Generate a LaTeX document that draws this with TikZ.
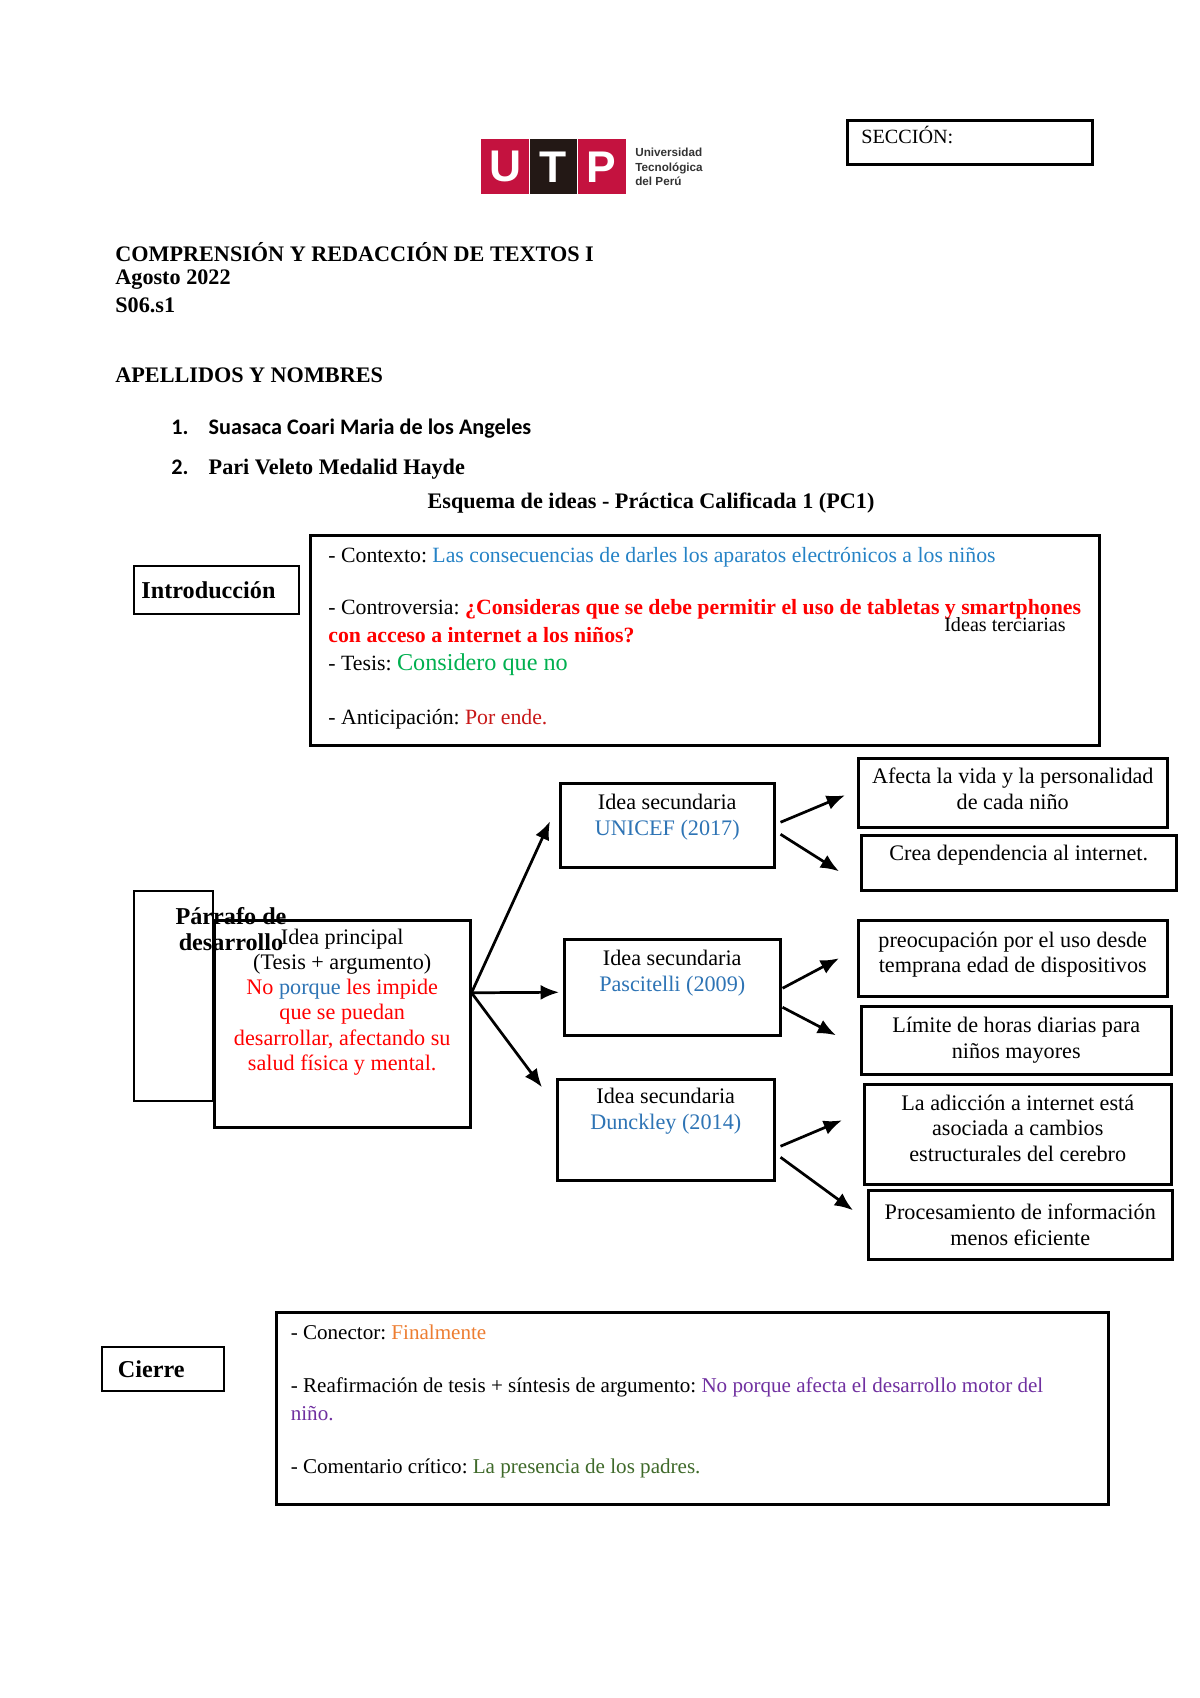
\documentclass[tikz,border=0pt]{standalone}
\usepackage{fontspec}
\setmainfont{Liberation Serif}
\newfontfamily\calibri{Carlito}
\newfontfamily\arialf{Liberation Sans}
\usetikzlibrary{arrows.meta,positioning}
\definecolor{Crimson}{HTML}{C4123F}
\definecolor{Coal}{HTML}{231815}
\definecolor{SkyText}{HTML}{2683C6}
\definecolor{SteelText}{HTML}{2E74B5}
\definecolor{GreenText}{HTML}{00B050}
\definecolor{DeepRed}{HTML}{C81818}
\definecolor{OrangeText}{HTML}{ED7D31}
\definecolor{PurpleText}{HTML}{7030A0}
\definecolor{MossText}{HTML}{3F6A2A}
\newdimen\px
\px=.4958pt

\begin{document}
\frenchspacing
\begin{tikzpicture}[
  x=.4958pt,y=-.4958pt,
  box/.style={draw=black,line width=1.25pt,fill=white,align=center,anchor=north west,inner sep=2pt,font=\fontsize{11}{12.8}\selectfont\frenchspacing},
  thinbox/.style={box,line width=.8pt},
  sheet/.style={box,align=left,font=\fontsize{10.8}{14}\selectfont\frenchspacing},
  line/.style={anchor=west,inner sep=0pt,font=\fontsize{11}{14}\selectfont\bfseries},
  band/.style={anchor=north west,inner sep=0pt,text=white,minimum height=55\px,minimum width=47.5\px,font=\arialf\fontsize{22}{22}\selectfont\bfseries},
  arrow/.style={-{Latex[length=3.2mm,width=2.6mm]},line width=1.35pt,draw=black}]
\useasboundingbox (0,0) rectangle (1200,1698);
% heading
\node[band,fill=Crimson](logou) at (481,139){U};
\node[band,fill=Coal,right=0pt of logou](logot){T};
\node[band,fill=Crimson,right=0pt of logot](logop){P};
\node[anchor=west,inner sep=0pt,align=left,font=\arialf\fontsize{5.8}{7}\selectfont\bfseries,text=black!80,right=9\px of logop](logotext){Universidad\\Tecnológica\\del Perú};
\node[box,minimum width=245\px,minimum height=44\px,align=left,text depth=7pt,text width=217\px,inner xsep=7pt,font=\fontsize{10}{12}\selectfont](seccion) at (846,119){SECCIÓN:};
\node[line](curso) at (115,252){COMPRENSIÓN Y REDACCIÓN DE TEXTOS I};
\node[line](fecha) at (115,280){Agosto 2022};
\node[line](codigo) at (115,305){S06.s1};
\node[line](apellidos) at (115,375){APELLIDOS Y NOMBRES};
\node[line,font=\calibri\fontsize{11}{14}\selectfont\bfseries](alumna) at (171,429){1.\hspace{10pt}Suasaca Coari Maria de los Angeles};
\node[line](alumnb) at (171,469){{\calibri 2.}\hspace{10pt}Pari Veleto Medalid Hayde};
\node[line,anchor=center](titulo) at (651,503){Esquema de ideas - Práctica Calificada 1 (PC1)};
% introduccion
\node[thinbox,minimum width=165\px,minimum height=48\px,align=left,font=\fontsize{12}{14}\selectfont\bfseries,inner xsep=3.8pt,text width=150\px](intro) at (133,565){Introducción};
\node[sheet,minimum width=789\px,minimum height=210\px,text depth=4pt](contexto) at (309,534){- Contexto: \textcolor{SkyText}{Las consecuencias de darles los aparatos electrónicos a los niños}\\[11.5pt]
- Controversia: \textcolor{red}{\textbf{¿Consideras que se debe permitir el uso de tabletas y smartphones}}\\
\textcolor{red}{\textbf{con acceso a internet a los niños?}}\\
- Tesis: \textcolor{GreenText}{\fontsize{12}{14}\selectfont Considero que no}\\[13pt]
- Anticipación: \textcolor{DeepRed}{Por ende.}};
\node[inner sep=0pt,font=\fontsize{10}{12}\selectfont](terciarias) at (1005,625){Ideas terciarias};
% desarrollo
\node[thinbox,minimum width=79\px,minimum height=210\px](parrafo) at (133,890){};
\node[box,minimum width=256\px,minimum height=207\px,text depth=24pt,font=\fontsize{11}{12.5}\selectfont](principal) at (213,919){Idea principal\\
(Tesis + argumento)\\
\textcolor{red}{No} \textcolor{SteelText}{porque} \textcolor{red}{les impide}\\
\textcolor{red}{que se puedan}\\
\textcolor{red}{desarrollar, afectando su}\\
\textcolor{red}{salud física y mental.}};
\node[inner sep=0pt,align=center,font=\fontsize{12}{13}\selectfont\bfseries](parrafotxt) at (231,929){Párrafo de\\desarrollo};
\node[box,minimum width=214\px,minimum height=84\px,text depth=10.5pt](uno) at (559,782){Idea secundaria\\\textcolor{SteelText}{UNICEF (2017)}};
\node[box,minimum width=216\px,minimum height=96\px,text depth=16pt](dos) at (563,938){Idea secundaria\\\textcolor{SteelText}{Pascitelli (2009)}};
\node[box,minimum width=217\px,minimum height=101\px,text depth=21pt](tres) at (556,1078){Idea secundaria\\\textcolor{SteelText}{Dunckley (2014)}};
\node[box,minimum width=309\px,minimum height=69\px,text depth=4pt](afecta) at (857,757){Afecta la vida y la personalidad\\de cada niño};
\node[box,minimum width=315\px,minimum height=55\px,text depth=9.5pt](crea) at (860,834){Crea dependencia al internet.};
\node[box,minimum width=309\px,minimum height=76\px,text depth=6pt](preocupa) at (857,919){preocupación por el uso desde\\temprana edad de dispositivos};
\node[box,minimum width=310\px,minimum height=68\px](limite) at (860,1005){Límite de horas diarias para\\niños mayores};
\node[box,minimum width=307\px,minimum height=100\px,text depth=6pt](adiccion) at (863,1083){La adicción a internet está\\asociada a cambios\\estructurales del cerebro};
\node[box,minimum width=304\px,minimum height=69\px](procesa) at (867,1189){Procesamiento de información\\menos eficiente};
\draw[arrow]([yshift=31\px]principal.east)--([shift={(-9,-4)}]uno.west);
\draw[arrow]([yshift=31\px]principal.east)--([shift={(-4,5)}]dos.west);
\draw[arrow]([yshift=31\px]principal.east)--([shift={(-14,-42.5)}]tres.west);
\draw[arrow]([shift={(5,-3)}]uno.east)--([shift={(-12,2.5)}]afecta.west);
\draw[arrow]([shift={(5,9)}]uno.east)--([shift={(-21,8.5)}]crea.west);
\draw[arrow]([shift={(1,1)}]dos.east)--([shift={(-18,0)}]preocupa.west);
\draw[arrow]([shift={(1,20)}]dos.east)--([shift={(-24,-5)}]limite.west);
\draw[arrow]([shift={(5,16.5)}]tres.east)--([shift={(-21,-14)}]adiccion.west);
\draw[arrow]([shift={(5,27.5)}]tres.east)--([shift={(-14,-14.5)}]procesa.west);
% cierre
\node[thinbox,minimum width=122\px,minimum height=44\px,align=left,text width=90\px,inner xsep=8pt,font=\fontsize{12}{14}\selectfont\bfseries](cierre) at (101,1346){Cierre};
\node[sheet,minimum width=832\px,minimum height=192\px,text depth=9pt,font=\fontsize{10.45}{14}\selectfont\frenchspacing](conector) at (275,1311){- Conector: \textcolor{OrangeText}{Finalmente}\\[12pt]
- Reafirmación de tesis + síntesis de argumento: \textcolor{PurpleText}{No porque afecta el desarrollo motor del}\rule{25pt}{0pt}\\
\textcolor{PurpleText}{niño.}\\[12pt]
- Comentario crítico: \textcolor{MossText}{La presencia de los padres.}};
\end{tikzpicture}
\end{document}
